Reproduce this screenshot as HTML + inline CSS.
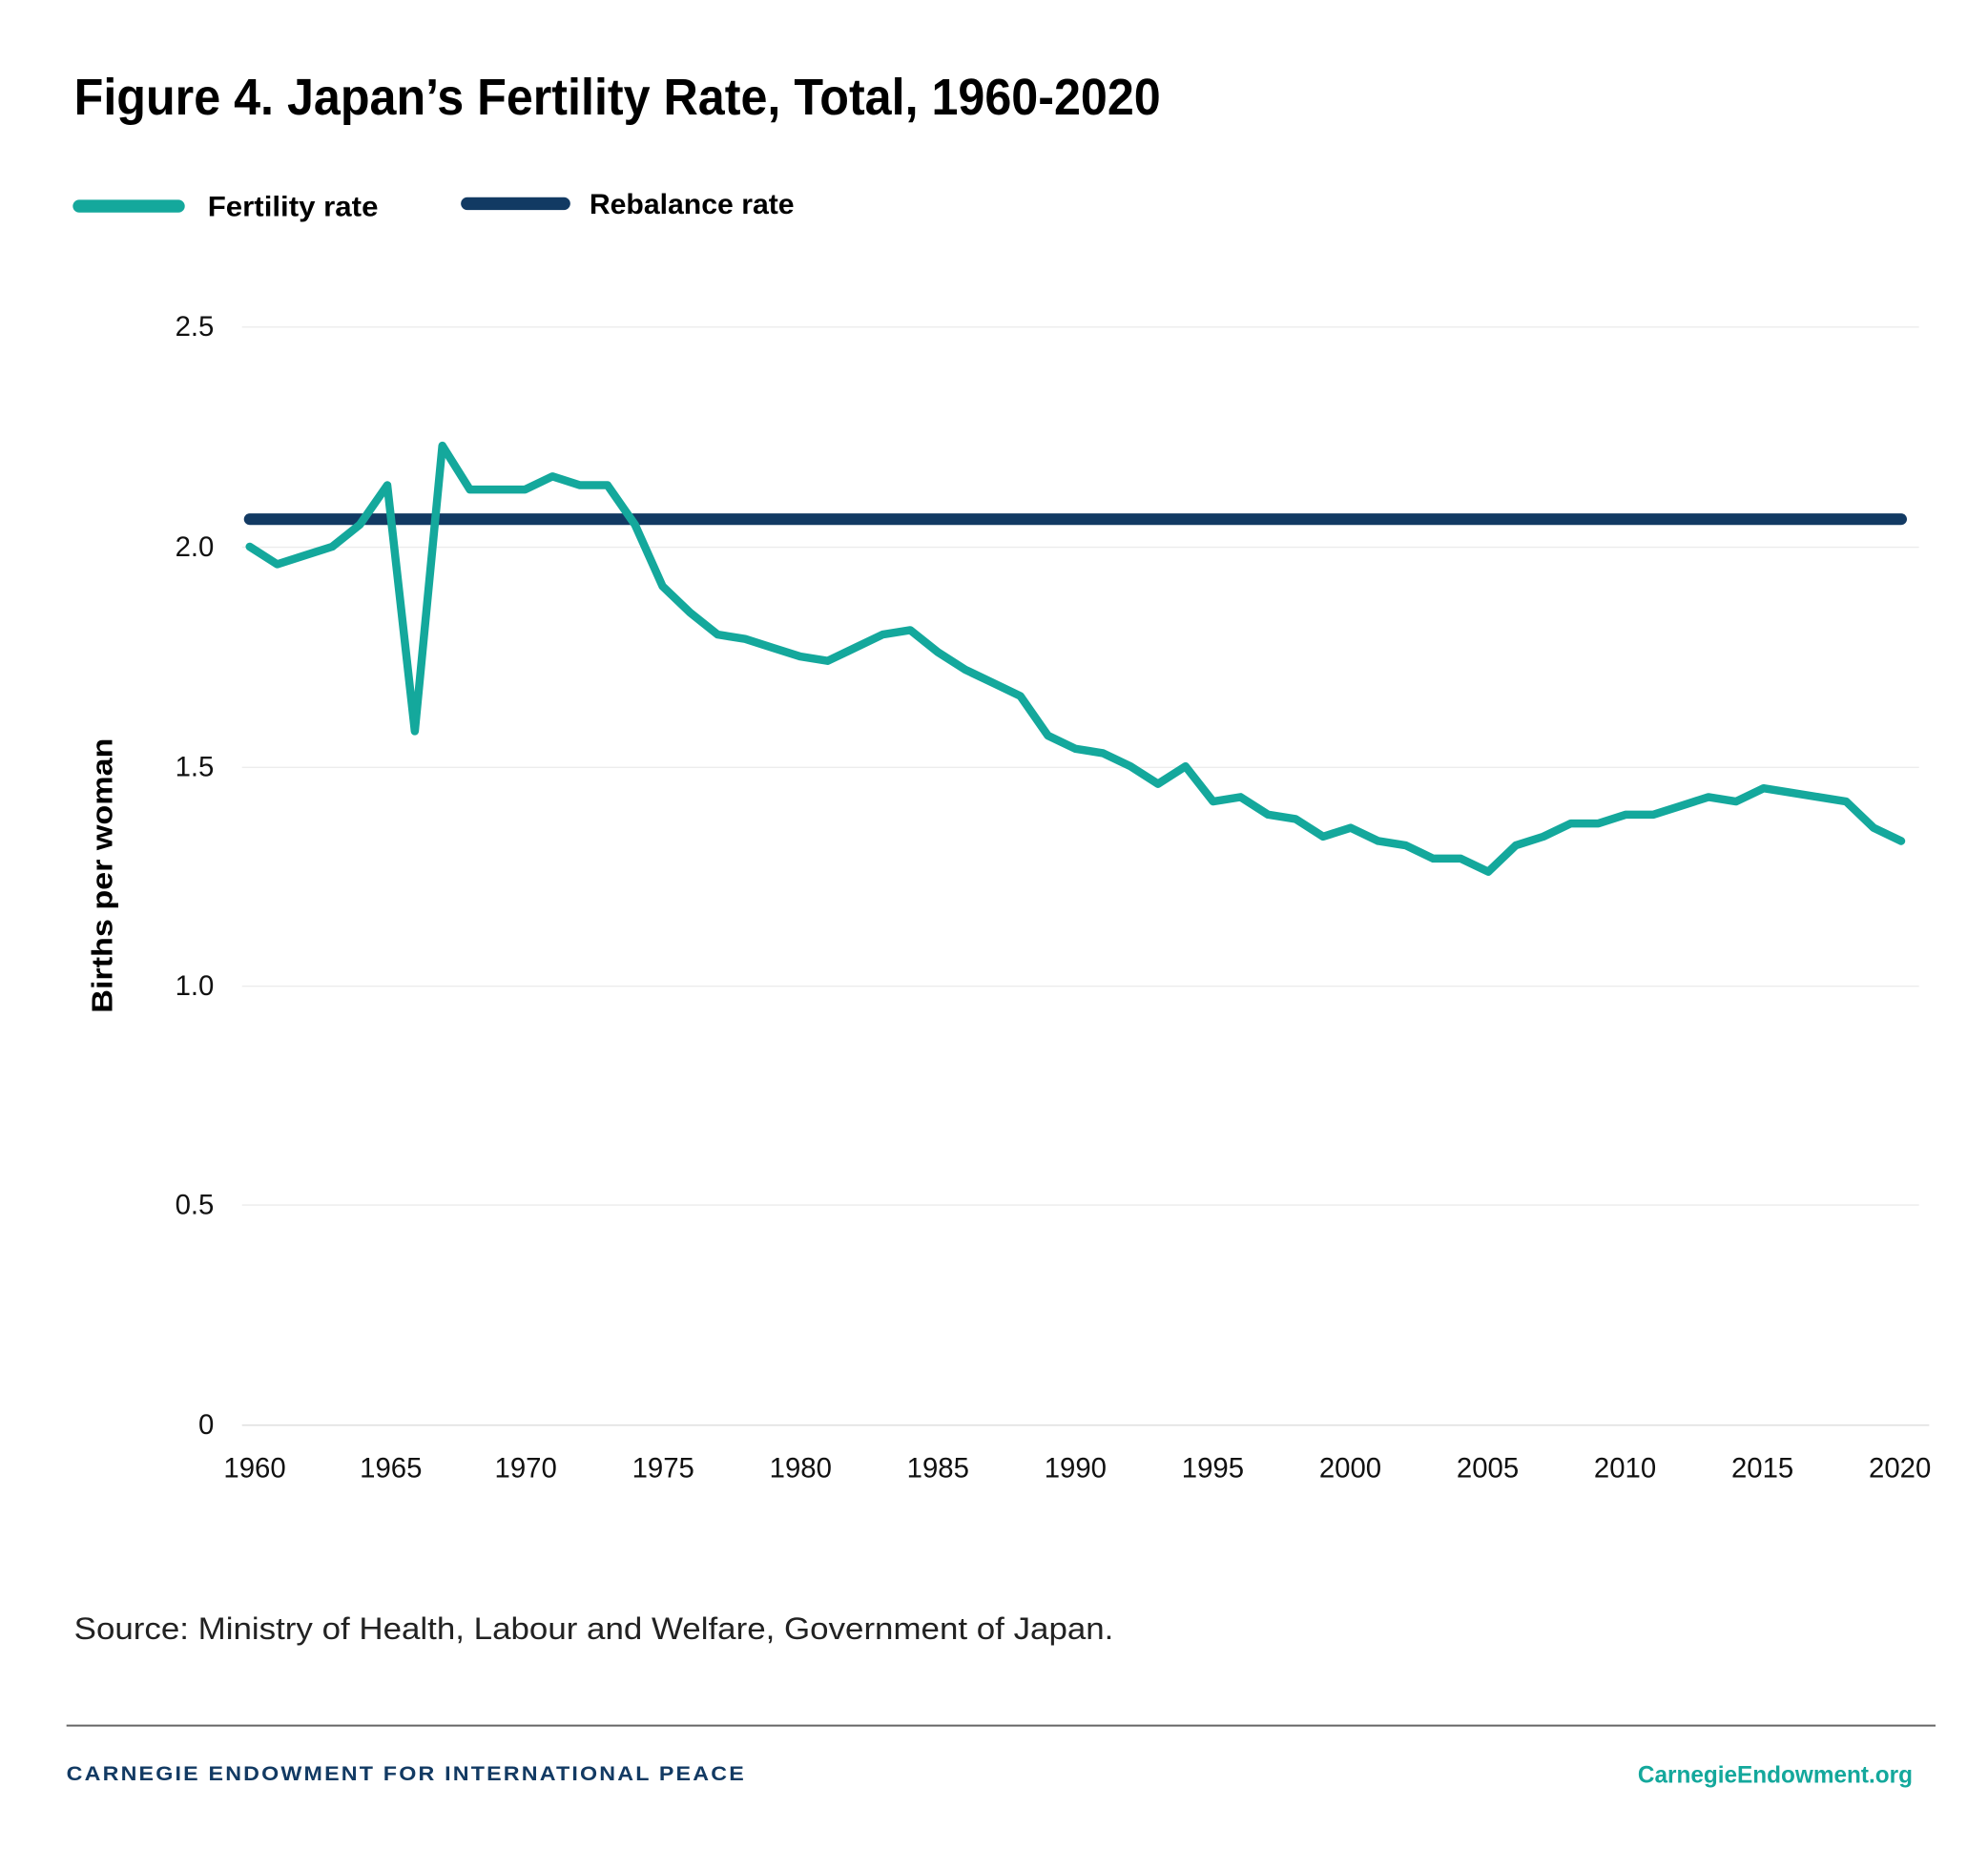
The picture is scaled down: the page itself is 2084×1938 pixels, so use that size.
<!DOCTYPE html>
<html><head><meta charset="utf-8"><style>
html,body{margin:0;padding:0;background:#fff;}
svg{display:block;}
</style></head><body>
<svg width="2084" height="1938" viewBox="0 0 1562 1453" xmlns="http://www.w3.org/2000/svg">
<rect width="1562" height="1453" fill="#fff"/>
<text x="58" y="90" font-family="Liberation Sans Narrow, Liberation Sans, sans-serif" font-weight="bold" font-size="40" textLength="854" lengthAdjust="spacingAndGlyphs" fill="#000">Figure 4. Japan’s Fertility Rate, Total, 1960-2020</text>
<line x1="62" y1="162" x2="140" y2="162" stroke="#14a89c" stroke-width="10" stroke-linecap="round"/>
<text x="163" y="170" font-family="Liberation Sans Narrow, Liberation Sans, sans-serif" font-weight="bold" font-size="22" textLength="134" lengthAdjust="spacingAndGlyphs" fill="#000">Fertility rate</text>
<line x1="367" y1="160" x2="443" y2="160" stroke="#123a63" stroke-width="10" stroke-linecap="round"/>
<text x="463" y="168" font-family="Liberation Sans Narrow, Liberation Sans, sans-serif" font-weight="bold" font-size="22" textLength="161" lengthAdjust="spacingAndGlyphs" fill="#000">Rebalance rate</text>
<g stroke="#ececec" stroke-width="1">
<line x1="190" y1="257" x2="1508" y2="257"/>
<line x1="190" y1="430" x2="1508" y2="430"/>
<line x1="190" y1="603" x2="1508" y2="603"/>
<line x1="190" y1="775" x2="1508" y2="775"/>
<line x1="190" y1="947" x2="1508" y2="947"/>
<line x1="190" y1="1120" x2="1516" y2="1120" stroke="#ddd"/>
</g>
<g font-family="Liberation Sans, sans-serif" font-size="22" fill="#111" text-anchor="end">
<text x="168" y="264">2.5</text><text x="168" y="437">2.0</text><text x="168" y="610">1.5</text>
<text x="168" y="782">1.0</text><text x="168" y="954">0.5</text><text x="168" y="1127">0</text>
</g>
<g font-family="Liberation Sans, sans-serif" font-size="22" fill="#111" text-anchor="middle">
<text x="200" y="1161">1960</text><text x="307" y="1161">1965</text><text x="413" y="1161">1970</text>
<text x="521" y="1161">1975</text><text x="629" y="1161">1980</text><text x="737" y="1161">1985</text>
<text x="845" y="1161">1990</text><text x="953" y="1161">1995</text><text x="1061" y="1161">2000</text>
<text x="1169" y="1161">2005</text><text x="1277" y="1161">2010</text><text x="1385" y="1161">2015</text>
<text x="1493" y="1161">2020</text>
</g>
<text transform="translate(88,688) rotate(-90)" text-anchor="middle" font-family="Liberation Sans Narrow, Liberation Sans, sans-serif" font-weight="bold" font-size="23" textLength="216" lengthAdjust="spacingAndGlyphs" fill="#000">Births per woman</text>
<line x1="196" y1="408" x2="1494" y2="408" stroke="#123a63" stroke-width="9" stroke-linecap="round"/>
<polyline transform="translate(196,1120) scale(21.633,-345.2)" fill="none" stroke="#14a89c" stroke-width="8.5" vector-effect="non-scaling-stroke" stroke-linejoin="round" stroke-linecap="round"
points="0,2.00 1,1.96 2,1.98 3,2.00 4,2.05 5,2.14 6,1.58 7,2.23 8,2.13 9,2.13 10,2.13 11,2.16 12,2.14 13,2.14 14,2.05 15,1.91 16,1.85 17,1.80 18,1.79 19,1.77 20,1.75 21,1.74 22,1.77 23,1.80 24,1.81 25,1.76 26,1.72 27,1.69 28,1.66 29,1.57 30,1.54 31,1.53 32,1.50 33,1.46 34,1.50 35,1.42 36,1.43 37,1.39 38,1.38 39,1.34 40,1.36 41,1.33 42,1.32 43,1.29 44,1.29 45,1.26 46,1.32 47,1.34 48,1.37 49,1.37 50,1.39 51,1.39 52,1.41 53,1.43 54,1.42 55,1.45 56,1.44 57,1.43 58,1.42 59,1.36 60,1.33"/>
<text x="58" y="1288" font-family="Liberation Sans, sans-serif" font-size="24" textLength="817" lengthAdjust="spacingAndGlyphs" fill="#222">Source: Ministry of Health, Labour and Welfare, Government of Japan.</text>
<line x1="52" y1="1356" x2="1521" y2="1356" stroke="#666" stroke-width="1.5"/>
<text x="52" y="1399" font-family="Liberation Sans, sans-serif" font-weight="bold" font-size="16" letter-spacing="1.5" textLength="534" lengthAdjust="spacingAndGlyphs" fill="#123a63">CARNEGIE ENDOWMENT FOR INTERNATIONAL PEACE</text>
<text x="1503" y="1401" text-anchor="end" font-family="Liberation Sans Narrow, Liberation Sans, sans-serif" font-weight="bold" font-size="19" textLength="216" lengthAdjust="spacingAndGlyphs" fill="#14a89c">CarnegieEndowment.org</text>
</svg>
</body></html>
